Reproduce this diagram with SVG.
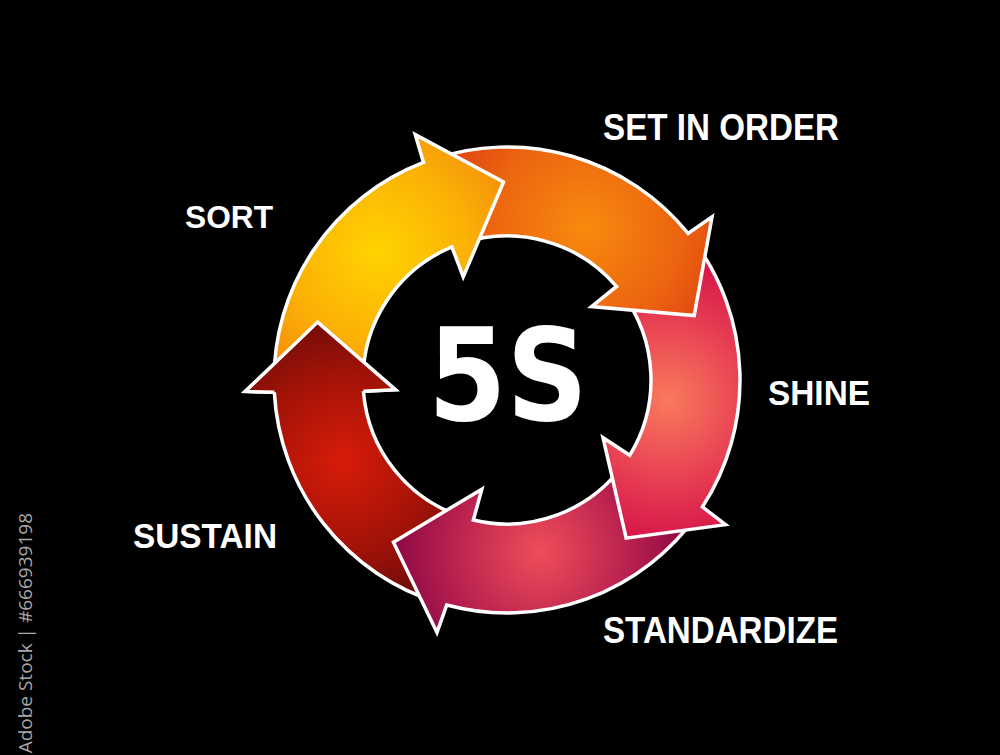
<svg xmlns="http://www.w3.org/2000/svg" width="1000" height="755" viewBox="0 0 1000 755">
<style>
.arrow{stroke:#fff;stroke-width:3.5;stroke-linejoin:miter}
.lbl{font-family:"Liberation Sans",Arial,sans-serif;font-weight:700;fill:#fff}
.big{font-family:"DejaVu Sans",sans-serif;font-weight:700;fill:#fff}
</style>
<defs>
<radialGradient id="gY" gradientUnits="userSpaceOnUse" cx="378" cy="252" r="165"><stop offset="0" stop-color="#FFD400"/><stop offset="0.55" stop-color="#FBB006"/><stop offset="1" stop-color="#F2860E"/></radialGradient>
<radialGradient id="gO" gradientUnits="userSpaceOnUse" cx="585" cy="228" r="160"><stop offset="0" stop-color="#F88A0E"/><stop offset="0.6" stop-color="#EC6410"/><stop offset="1" stop-color="#DC4012"/></radialGradient>
<radialGradient id="gP" gradientUnits="userSpaceOnUse" cx="668" cy="400" r="160"><stop offset="0" stop-color="#FA7A5C"/><stop offset="0.55" stop-color="#E53A52"/><stop offset="1" stop-color="#D20A46"/></radialGradient>
<radialGradient id="gM" gradientUnits="userSpaceOnUse" cx="540" cy="552" r="165"><stop offset="0" stop-color="#EE4E5A"/><stop offset="0.55" stop-color="#B8204E"/><stop offset="1" stop-color="#7E0044"/></radialGradient>
<radialGradient id="gR" gradientUnits="userSpaceOnUse" cx="343" cy="462" r="165"><stop offset="0" stop-color="#D81C08"/><stop offset="0.55" stop-color="#A01208"/><stop offset="1" stop-color="#5E0C08"/></radialGradient>
</defs>
<rect x="0" y="0" width="1000" height="755" fill="#000"/>
<g id="connectors">
<path id="arrow-sustain" class="arrow" fill="url(#gR)" d="M 438.88,602.82 A 233 233 0 0 1 274.32,392.19 L 245.25,391.43 L 317.65,322.11 L 395.43,389.76 L 363.44,391.30 A 144 144 0 0 0 464.90,517.71 Z"/>
<path id="arrow-standardize" class="arrow" fill="url(#gM)" d="M 697.86,513.64 A 233 233 0 0 1 446.69,605.06 L 436.98,632.47 L 393.43,542.19 L 481.81,489.13 L 473.38,520.02 A 144 144 0 0 0 624.96,462.60 Z"/>
<path id="arrow-shine" class="arrow" fill="url(#gP)" d="M 693.08,239.78 A 233 233 0 0 1 702.41,506.90 L 725.48,524.61 L 626.16,538.13 L 603.00,437.68 L 629.78,455.24 A 144 144 0 0 0 622.00,293.34 Z"/>
<path id="arrow-set-in-order" class="arrow" fill="url(#gO)" d="M 431.14,159.69 A 233 233 0 0 1 688.08,233.37 L 712.04,216.90 L 694.21,315.54 L 591.53,306.52 L 616.50,286.48 A 144 144 0 0 0 460.12,243.85 Z"/>
<path id="arrow-sort" class="arrow" fill="url(#gY)" d="M 274.04,384.07 A 233 233 0 0 1 423.50,162.48 L 415.25,134.59 L 503.54,182.03 L 463.24,276.90 L 451.89,246.96 A 144 144 0 0 0 363.02,382.51 Z"/>
<path fill="url(#gR)" d="M 274.32,392.19 L 245.25,391.43 L 317.65,322.11 L 395.43,389.76 L 363.44,391.30 Z"/>
<path class="arrow" fill="none" d="M 274.32,392.19 L 245.25,391.43 L 317.65,322.11 L 395.43,389.76 L 363.44,391.30"/>
</g>
<g id="center">
<text class="big" x="428" y="420" font-size="128" textLength="160" lengthAdjust="spacingAndGlyphs">5S</text>
</g>
<g id="sort"><text class="lbl" x="185" y="228" font-size="32" textLength="88" lengthAdjust="spacingAndGlyphs">SORT</text></g>
<g id="set-in-order"><text class="lbl" x="603" y="140" font-size="37" textLength="236" lengthAdjust="spacingAndGlyphs">SET IN ORDER</text></g>
<g id="shine"><text class="lbl" x="768" y="405" font-size="35" textLength="102" lengthAdjust="spacingAndGlyphs">SHINE</text></g>
<g id="standardize"><text class="lbl" x="603" y="643" font-size="37" textLength="235" lengthAdjust="spacingAndGlyphs">STANDARDIZE</text></g>
<g id="sustain"><text class="lbl" x="133" y="548" font-size="35" textLength="144" lengthAdjust="spacingAndGlyphs">SUSTAIN</text></g>
<g id="watermark"><text transform="translate(32,513) rotate(-90)" text-anchor="end" font-family="'Open Sans',sans-serif" font-size="19" fill="#a8a8a8">Adobe Stock | #666939198</text></g>
</svg>
